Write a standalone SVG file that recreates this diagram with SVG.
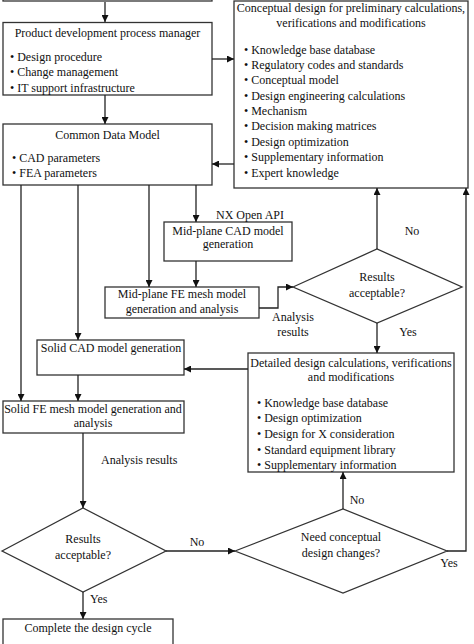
<svg xmlns="http://www.w3.org/2000/svg" width="474" height="644" viewBox="0 0 474 644">
<style>
.box{fill:#fff;stroke:#333;stroke-width:1.3}
.ln{fill:none;stroke:#222;stroke-width:1.3}
.arr{fill:none;stroke:#222;stroke-width:1.3;marker-end:url(#ah)}
text{font-family:"Liberation Serif","Times New Roman",serif;font-size:12px;fill:#111}
.c{text-anchor:middle}
</style>
<defs>
<marker id="ah" viewBox="0 0 10 10" refX="10" refY="5" markerWidth="7" markerHeight="7" markerUnits="userSpaceOnUse" orient="auto">
<path d="M0,0 L10,5 L0,10 z" fill="#111"/>
</marker>
</defs>
<rect width="474" height="644" fill="#fff"/>

<g id="prev"><rect class="box" x="3" y="-20" width="209" height="21"/></g>

<g id="pdpm">
<rect class="box" x="3" y="22.5" width="209" height="72.5"/>
<text class="c" x="107.5" y="37">Product development process manager</text>
<text x="10" y="61">• Design procedure</text>
<text x="10" y="76">• Change management</text>
<text x="10" y="92">• IT support infrastructure</text>
</g>

<g id="cdm">
<rect class="box" x="3" y="124" width="209" height="61"/>
<text class="c" x="107.5" y="139">Common Data Model</text>
<text x="12" y="162">• CAD parameters</text>
<text x="12" y="177">• FEA parameters</text>
</g>

<g id="concept">
<rect class="box" x="234" y="1" width="234" height="187"/>
<text class="c" x="351" y="12">Conceptual design for preliminary calculations,</text>
<text class="c" x="351" y="27">verifications and modifications</text>
<text x="244" y="54">• Knowledge base database</text>
<text x="244" y="69">• Regulatory codes and standards</text>
<text x="244" y="84">• Conceptual model</text>
<text x="244" y="100">• Design engineering calculations</text>
<text x="244" y="115">• Mechanism</text>
<text x="244" y="130">• Decision making matrices</text>
<text x="244" y="145.5">• Design optimization</text>
<text x="244" y="160.5">• Supplementary information</text>
<text x="244" y="176.5">• Expert knowledge</text>
</g>

<g id="midcad">
<rect class="box" x="164" y="222" width="128" height="39"/>
<text class="c" x="228" y="235">Mid-plane CAD model</text>
<text class="c" x="228" y="248">generation</text>
</g>

<g id="midfe">
<rect class="box" x="105" y="287" width="154" height="31"/>
<text class="c" x="182" y="298">Mid-plane FE mesh model</text>
<text class="c" x="182" y="313">generation and analysis</text>
</g>

<g id="dec1">
<polygon class="box" points="293,287 377,249 462,287 377,323"/>
<text class="c" x="377" y="281">Results</text>
<text class="c" x="377" y="297">acceptable?</text>
</g>

<g id="detailed">
<rect class="box" x="248" y="353" width="206" height="119"/>
<text class="c" x="351" y="367">Detailed design calculations, verifications</text>
<text class="c" x="351" y="381">and modifications</text>
<text x="257" y="407">• Knowledge base database</text>
<text x="257" y="422">• Design optimization</text>
<text x="257" y="438">• Design for X consideration</text>
<text x="257" y="454">• Standard equipment library</text>
<text x="257" y="469">• Supplementary information</text>
</g>

<g id="solidcad">
<rect class="box" x="37" y="340" width="147" height="35"/>
<text class="c" x="111" y="352">Solid CAD model generation</text>
</g>

<g id="solidfe">
<rect class="box" x="3" y="401" width="181" height="32"/>
<text class="c" x="93" y="413">Solid FE mesh model generation and</text>
<text class="c" x="93" y="427">analysis</text>
</g>

<g id="dec2">
<polygon class="box" points="2,551 83,508 166,551 83,592"/>
<text class="c" x="83" y="543">Results</text>
<text class="c" x="83" y="559">acceptable?</text>
</g>

<g id="dec3">
<polygon class="box" points="235,551 343,509 447,551 343,593"/>
<text class="c" x="341" y="541">Need conceptual</text>
<text class="c" x="341" y="557">design changes?</text>
</g>

<g id="complete">
<rect class="box" x="3" y="619" width="170" height="30"/>
<text class="c" x="88" y="632">Complete the design cycle</text>
</g>

<g id="connectors">
<line class="arr" x1="105" y1="2" x2="105" y2="22"/>
<line class="arr" x1="212" y1="59" x2="234" y2="59"/>
<line class="arr" x1="105" y1="95" x2="105" y2="124"/>
<line class="arr" x1="234" y1="164" x2="212" y2="164"/>
<line class="arr" x1="21" y1="185" x2="21" y2="401"/>
<line class="arr" x1="78" y1="185" x2="78" y2="340"/>
<line class="arr" x1="149" y1="185" x2="149" y2="287"/>
<line class="arr" x1="196" y1="185" x2="196" y2="222"/>
<line class="arr" x1="196" y1="261" x2="196" y2="287"/>
<polyline class="arr" points="259,308 278,308 278,287 293,287"/>
<line class="arr" x1="377" y1="249" x2="377" y2="188"/>
<line class="arr" x1="377" y1="323" x2="377" y2="353"/>
<line class="arr" x1="248" y1="369" x2="184" y2="369"/>
<line class="arr" x1="78" y1="375" x2="78" y2="401"/>
<line class="arr" x1="83" y1="433" x2="83" y2="508"/>
<line class="arr" x1="166" y1="551" x2="235" y2="551"/>
<line class="arr" x1="83" y1="592" x2="83" y2="619"/>
<line class="arr" x1="343" y1="509" x2="343" y2="472"/>
<polyline class="arr" points="447,551 466,551 466,188"/>
<text x="216" y="219">NX Open API</text>
<text class="c" x="293" y="321">Analysis</text>
<text class="c" x="293" y="336">results</text>
<text class="c" x="412" y="235">No</text>
<text class="c" x="408" y="336">Yes</text>
<text x="101" y="464">Analysis results</text>
<text class="c" x="197" y="546">No</text>
<text x="90" y="603">Yes</text>
<text class="c" x="357" y="504">No</text>
<text class="c" x="449" y="567">Yes</text>
</g>
</svg>
